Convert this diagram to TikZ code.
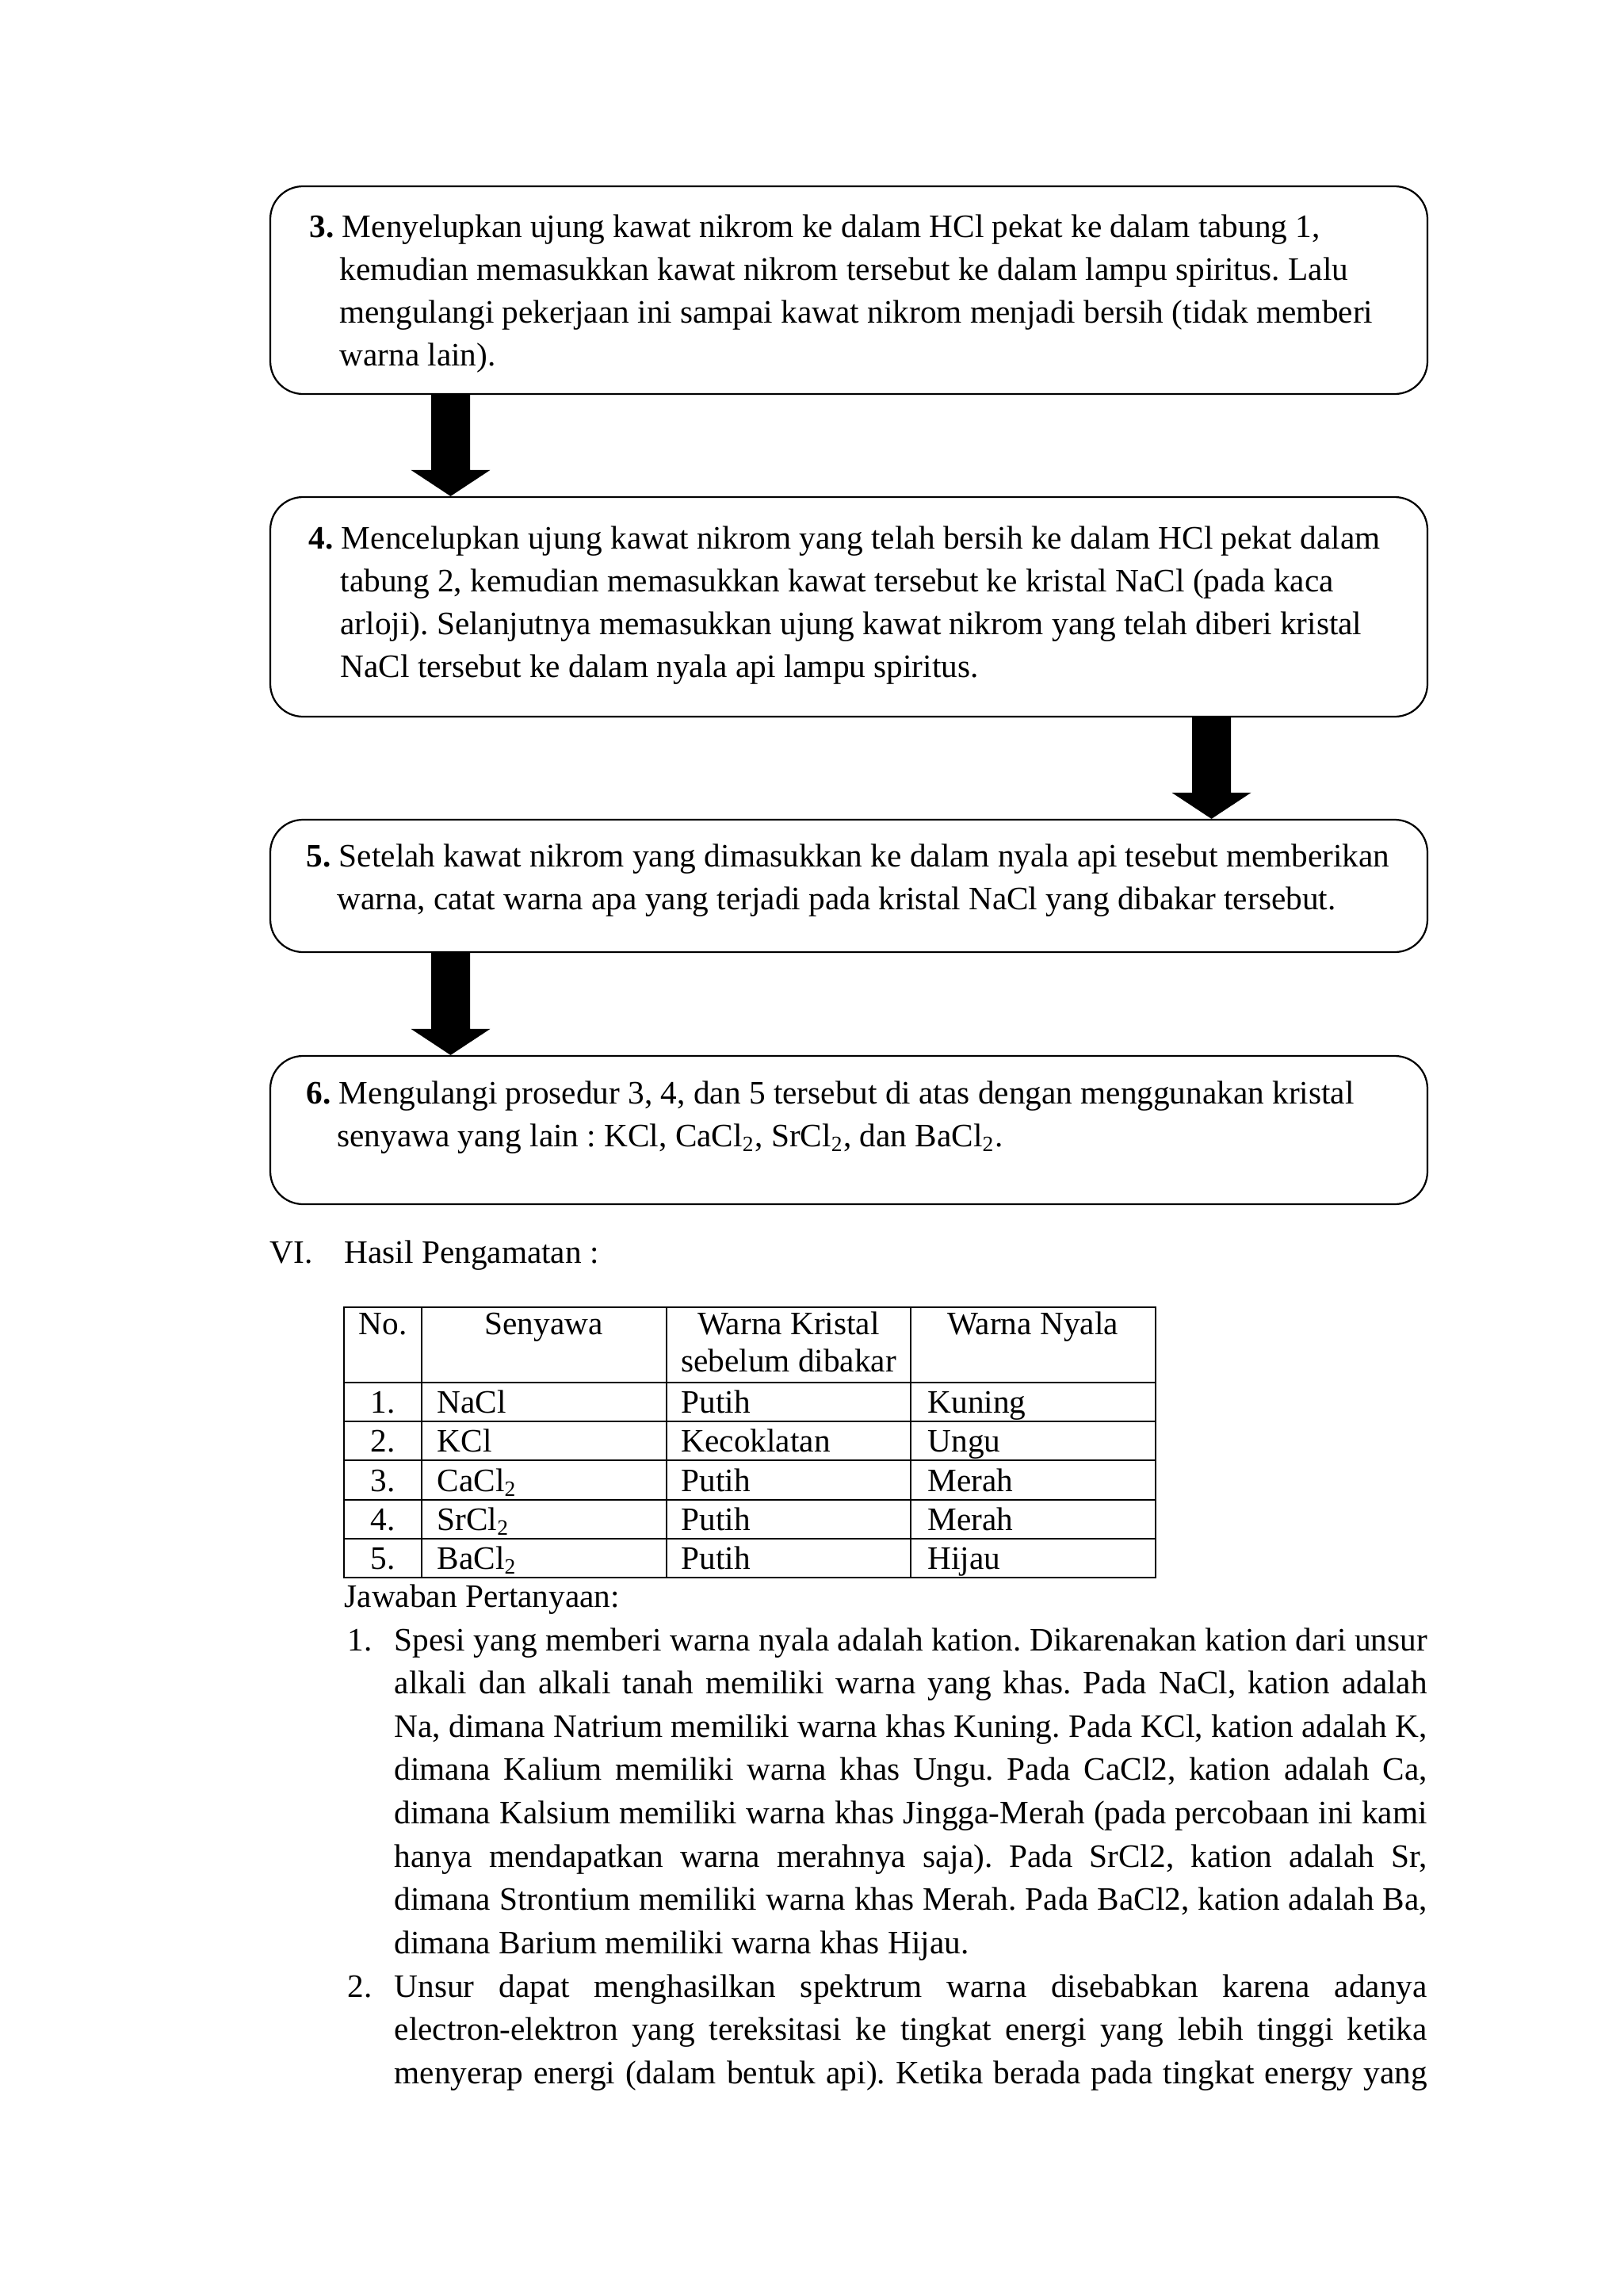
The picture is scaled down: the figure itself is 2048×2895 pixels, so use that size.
\documentclass[tikz,border=0pt]{standalone}
\usepackage{fontspec}
\setmainfont{Liberation Serif}
\usetikzlibrary{calc}
\frenchspacing
\newlength\jw \setlength\jw{378.73pt}
\newcommand\jl[1]{\leavevmode\hbox to \jw{#1}}
\newcommand\natsp{\spaceskip=0pt\xspaceskip=0pt\relax}
\newcommand\blockarrow[2]{%
  \fill let \p1=(#1), \p2=(#2) in
    (\x1-7.12pt,\y1) -- (\x1+7.12pt,\y1) -- (\x1+7.12pt,\y2+9.59pt) --
    (\x1+14.53pt,\y2+9.59pt) -- (\x1,\y2) -- (\x1-14.53pt,\y2+9.59pt) --
    (\x1-7.12pt,\y2+9.59pt) -- cycle;}
\begin{document}
\begin{tikzpicture}[x=0.29066pt, y=-0.29066pt,
  box/.style={draw, line width=0.65pt, rounded corners=12pt, minimum width=424.36pt, inner sep=0pt},
  btxt/.style={inner sep=0pt, anchor=base west, text width=410pt, align=left, font=\fontsize{12}{15.7}\selectfont},
  ptxt/.style={inner sep=0pt, anchor=base west, font=\fontsize{12}{15.87}\selectfont},
  jtxt/.style={inner sep=0pt, anchor=base west, text width=\jw, align=left, font=\fontsize{12}{15.87}\selectfont},
  cell/.style={inner sep=0pt, anchor=base west, font=\fontsize{12}{14}\selectfont},
  ccell/.style={inner sep=0pt, anchor=base, font=\fontsize{12}{14}\selectfont},
  tline/.style={line width=0.4pt}]
\useasboundingbox (0,0) rectangle (2048,2895);

% boxes
\node[box, minimum height=76.15pt] (b3) at (1071,366) {};
\node[box, minimum height=80.51pt] (b4) at (1071,765.5) {};
\node[box, minimum height=48.54pt] (b5) at (1071,1117.5) {};
\node[box, minimum height=54.35pt] (b6) at (1071,1425.5) {};

% box texts
\node[btxt] (t3) at (390,299) {\natsp\textbf{3.} Menyelupkan ujung kawat nikrom ke dalam HCl pekat ke dalam tabung 1,\\
\hspace*{11pt}kemudian memasukkan kawat nikrom tersebut ke dalam lampu spiritus. Lalu\\
\hspace*{11pt}mengulangi pekerjaan ini sampai kawat nikrom menjadi bersih (tidak memberi\\
\hspace*{11pt}warna lain).};
\node[btxt] (t4) at (389,692) {\natsp\textbf{4.} Mencelupkan ujung kawat nikrom yang telah bersih ke dalam HCl pekat dalam\\
\hspace*{11.6pt}tabung 2, kemudian memasukkan kawat tersebut ke kristal NaCl (pada kaca\\
\hspace*{11.6pt}arloji). Selanjutnya memasukkan ujung kawat nikrom yang telah diberi kristal\\
\hspace*{11.6pt}NaCl tersebut ke dalam nyala api lampu spiritus.};
\node[btxt] (t5) at (386,1093) {\natsp\textbf{5.} Setelah kawat nikrom yang dimasukkan ke dalam nyala api tesebut memberikan\\
\hspace*{11.3pt}warna, catat warna apa yang terjadi pada kristal NaCl yang dibakar tersebut.};
\node[btxt] (t6) at (386,1392) {\natsp\textbf{6.} Mengulangi prosedur 3, 4, dan 5 tersebut di atas dengan menggunakan kristal\\
\hspace*{11.3pt}senyawa yang lain : KCl, CaCl\textsubscript{2}, SrCl\textsubscript{2}, dan BaCl\textsubscript{2}.};

% arrows
\coordinate (xl) at (568.5,0);
\coordinate (xr) at (1528.5,0);
\coordinate (a1s) at (b3.south -| xl);
\coordinate (a1e) at (b4.north -| xl);
\coordinate (a2s) at (b4.south -| xr);
\coordinate (a2e) at (b5.north -| xr);
\coordinate (a3s) at (b5.south -| xl);
\coordinate (a3e) at (b6.north -| xl);
\blockarrow{a1s}{a1e}
\blockarrow{a2s}{a2e}
\blockarrow{a3s}{a3e}

% section VI
\node[ptxt] (vi) at (340,1593) {VI.};
\node[ptxt] (hp) at (434,1593) {Hasil Pengamatan :};

% table
\draw[tline] (434,1649) rectangle (1458,1990);
\foreach \yy in {1744,1793,1842,1892,1941} \draw[tline] (434,\yy) -- (1458,\yy);
\foreach \xx in {532,841,1149} \draw[tline] (\xx,1649) -- (\xx,1990);

\node[ccell] (h1) at (483,1683) {No.};
\node[ccell] (h2) at (686,1683) {Senyawa};
\node[ccell] (h3a) at (995,1683) {Warna Kristal};
\node[ccell] (h3b) at (995,1730) {sebelum dibakar};
\node[ccell] (h4) at (1303,1683) {Warna Nyala};

\node[ccell] (n1) at (483,1782) {1.};
\node[cell] (s1) at (551,1782) {NaCl};
\node[cell] (k1) at (859,1782) {Putih};
\node[cell] (f1) at (1170,1782) {Kuning};

\node[ccell] (n2) at (483,1831) {2.};
\node[cell] (s2) at (551,1831) {KCl};
\node[cell] (k2) at (859,1831) {Kecoklatan};
\node[cell] (f2) at (1170,1831) {Ungu};

\node[ccell] (n3) at (483,1881) {3.};
\node[cell] (s3) at (551,1881) {CaCl\textsubscript{2}};
\node[cell] (k3) at (859,1881) {Putih};
\node[cell] (f3) at (1170,1881) {Merah};

\node[ccell] (n4) at (483,1930) {4.};
\node[cell] (s4) at (551,1930) {SrCl\textsubscript{2}};
\node[cell] (k4) at (859,1930) {Putih};
\node[cell] (f4) at (1170,1930) {Merah};

\node[ccell] (n5) at (483,1979) {5.};
\node[cell] (s5) at (551,1979) {BaCl\textsubscript{2}};
\node[cell] (k5) at (859,1979) {Putih};
\node[cell] (f5) at (1170,1979) {Hijau};

% answers
\node[ptxt] (jp) at (434,2027) {Jawaban Pertanyaan:};
\node[ptxt] (q1) at (438,2082) {1.};
\node[jtxt] (a1) at (497,2082) {\natsp
\jl{Spesi yang memberi warna nyala adalah kation. Dikarenakan kation dari unsur}\\
\jl{alkali dan alkali tanah memiliki warna yang khas. Pada NaCl, kation adalah}\\
\jl{Na, dimana Natrium memiliki warna khas Kuning. Pada KCl, kation adalah K,}\\
\jl{dimana Kalium memiliki warna khas Ungu. Pada CaCl2, kation adalah Ca,}\\
\jl{dimana Kalsium memiliki warna khas Jingga-Merah (pada percobaan ini kami}\\
\jl{hanya mendapatkan warna merahnya saja). Pada SrCl2, kation adalah Sr,}\\
\jl{dimana Strontium memiliki warna khas Merah. Pada BaCl2, kation adalah Ba,}\\
dimana Barium memiliki warna khas Hijau.};
\node[ptxt] (q2) at (438,2519) {2.};
\node[jtxt] (a2) at (497,2519) {\natsp
\jl{Unsur dapat menghasilkan spektrum warna disebabkan karena adanya}\\
\jl{electron-elektron yang tereksitasi ke tingkat energi yang lebih tinggi ketika}\\
\jl{menyerap energi (dalam bentuk api). Ketika berada pada tingkat energy yang}};
\end{tikzpicture}
\end{document}
